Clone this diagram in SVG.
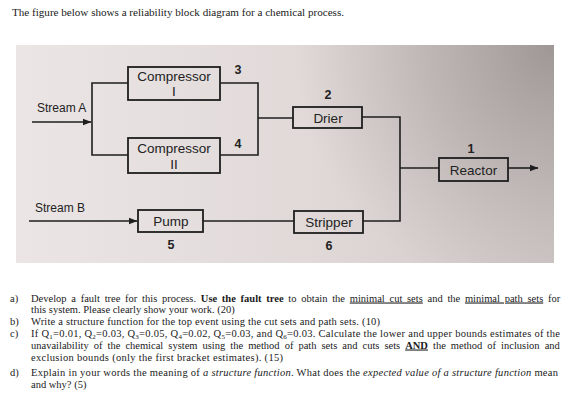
<svg xmlns="http://www.w3.org/2000/svg" width="572" height="408" viewBox="0 0 572 408">
<defs>
  <linearGradient id="bgLin" x1="0" y1="0" x2="1" y2="0">
    <stop offset="0" stop-color="#ebe5e5"/>
    <stop offset="0.55" stop-color="#e0d9d8"/>
    <stop offset="1" stop-color="#cfc8c7"/>
  </linearGradient>
  <radialGradient id="bgRad" cx="555" cy="45" r="260" gradientUnits="userSpaceOnUse">
    <stop offset="0" stop-color="#9c9492" stop-opacity="0.95"/>
    <stop offset="0.5" stop-color="#aaa2a0" stop-opacity="0.55"/>
    <stop offset="1" stop-color="#b5adab" stop-opacity="0"/>
  </radialGradient>
  <marker id="arr" markerWidth="9" markerHeight="8" refX="8.5" refY="4" orient="auto" markerUnits="userSpaceOnUse">
    <path d="M0,0.5 L9,4 L0,7.5 Z" fill="#1e1e1e"/>
  </marker>
  <style>
    .box { fill: none; stroke: #1e1e1e; stroke-width: 1.8; }
    .wire { fill: none; stroke: #1e1e1e; stroke-width: 1.6; }
    .lbl { font-family: "Liberation Sans", Arial, sans-serif; font-size: 13.5px; fill: #222; text-anchor: middle; }
    .num { font-family: "Liberation Sans", Arial, sans-serif; font-size: 12.5px; font-weight: bold; fill: #222; text-anchor: middle; }
    .stream { font-family: "Liberation Sans", Arial, sans-serif; font-size: 12px; fill: #222; }
    .q { font-family: "Liberation Serif", "Times New Roman", serif; font-size: 10.5px; fill: #1a1a1a; }
    .b { font-weight: bold; }
    .u { text-decoration: underline; }
    .i { font-style: italic; }
    .sub { font-size: 7px; }
  </style>
</defs>
<rect x="0" y="0" width="572" height="408" fill="#ffffff"/>
<text class="q" x="12" y="15.5" font-size="10" textLength="332" lengthAdjust="spacingAndGlyphs">The figure below shows a reliability block diagram for a chemical process.</text>

<rect x="16" y="45" width="538" height="218" fill="url(#bgLin)"/>
<rect x="16" y="45" width="538" height="218" fill="url(#bgRad)"/>

<g id="connectors">
  <path class="wire" d="M32,122 H91" marker-end="url(#arr)"/>
  <path class="wire" d="M128,83 H92 V155 H128"/>
  <path class="wire" d="M220,83 H258 V155 H220"/>
  <path class="wire" d="M258,118 H293"/>
  <path class="wire" d="M362,117 H400 V221 H363"/>
  <path class="wire" d="M400,168 H439"/>
  <path class="wire" d="M29,221 H137" marker-end="url(#arr)"/>
  <path class="wire" d="M203,221 H294"/>
  <path class="wire" d="M508,168 H538" marker-end="url(#arr)"/>
</g>

<g id="streamA"><text class="stream" x="37" y="112">Stream A</text></g>
<g id="streamB"><text class="stream" x="35" y="212">Stream B</text></g>

<g id="compressor1">
  <rect class="box" x="128" y="67" width="92" height="33"/>
  <text class="lbl" x="174" y="81">Compressor</text>
  <text class="lbl" x="174" y="96">I</text>
  <text class="num" x="238" y="74">3</text>
</g>
<g id="compressor2">
  <rect class="box" x="128" y="138" width="92" height="35"/>
  <text class="lbl" x="174" y="153">Compressor</text>
  <text class="lbl" x="174" y="168.5">II</text>
  <text class="num" x="238" y="148">4</text>
</g>
<g id="drier">
  <rect class="box" x="293" y="107" width="69" height="21"/>
  <text class="lbl" x="328" y="122.5">Drier</text>
  <text class="num" x="328" y="99">2</text>
</g>
<g id="pump">
  <rect class="box" x="138" y="210" width="65" height="22"/>
  <text class="lbl" x="171" y="225.5">Pump</text>
  <text class="num" x="171" y="249">5</text>
</g>
<g id="stripper">
  <rect class="box" x="294" y="211" width="69" height="22"/>
  <text class="lbl" x="329" y="226.5">Stripper</text>
  <text class="num" x="329" y="250">6</text>
</g>
<g id="reactor">
  <rect class="box" x="439" y="158" width="69" height="23"/>
  <text class="lbl" x="473.5" y="174.5">Reactor</text>
  <text class="num" x="471" y="153">1</text>
</g>

<g id="questions">
  <text class="q" x="10" y="301.5">a)</text>
  <text class="q" x="31" y="301.5" word-spacing="2.1">Develop a fault tree for this process.  <tspan class="b">Use the fault tree</tspan> to obtain the <tspan class="u">minimal cut sets</tspan> and the <tspan class="u">minimal path sets</tspan> for</text>
  <text class="q" x="31" y="312.5">this system. Please clearly show your work. (20)</text>
  <text class="q" x="10" y="324.5">b)</text>
  <text class="q" x="31" y="324.5" textLength="349" lengthAdjust="spacing">Write a structure function for the top event using the cut sets and path sets. (10)</text>
  <text class="q" x="10" y="336.5">c)</text>
  <text class="q" x="31" y="336.5" textLength="529" lengthAdjust="spacing">If Q<tspan class="sub" dy="2">1</tspan><tspan dy="-2">=0.01, Q</tspan><tspan class="sub" dy="2">2</tspan><tspan dy="-2">=0.03, Q</tspan><tspan class="sub" dy="2">3</tspan><tspan dy="-2">=0.05, Q</tspan><tspan class="sub" dy="2">4</tspan><tspan dy="-2">=0.02, Q</tspan><tspan class="sub" dy="2">5</tspan><tspan dy="-2">=0.03, and Q</tspan><tspan class="sub" dy="2">6</tspan><tspan dy="-2">=0.03.  Calculate the lower and upper bounds estimates of the</tspan></text>
  <text class="q" x="31" y="348.5" word-spacing="2.4">unavailability of the chemical system using the method of path sets and cuts sets <tspan class="b u">AND</tspan> the method of inclusion and</text>
  <text class="q" x="31" y="360.5" textLength="252" lengthAdjust="spacing">exclusion bounds (only the first bracket estimates).  (15)</text>
  <text class="q" x="10" y="375.5">d)</text>
  <text class="q" x="31" y="375.5" textLength="527" lengthAdjust="spacing">Explain in your words the meaning of <tspan class="i">a structure function</tspan>. What does the <tspan class="i">expected value of a structure function</tspan> mean</text>
  <text class="q" x="31" y="388">and why? (5)</text>
</g>
</svg>
